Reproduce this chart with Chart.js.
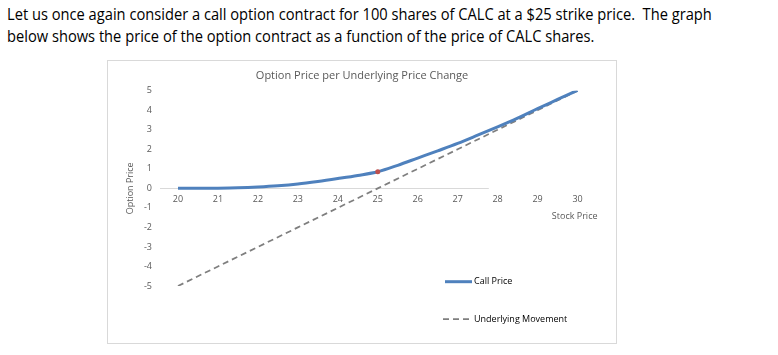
<!DOCTYPE html>
<html><head><meta charset="utf-8">
<script src="https://cdn.jsdelivr.net/npm/chart.js@4/dist/chart.umd.min.js"></script>
<style>
html,body{margin:0;padding:0;background:#fff;width:778px;height:355px;overflow:hidden;}
.t{position:absolute;left:7px;white-space:nowrap;font-family:"Open Sans",sans-serif;font-size:15.5px;line-height:16px;color:#000;transform-origin:0 0;}
#box{position:absolute;left:107px;top:60px;width:508px;height:282px;border:1px solid #d9d9d9;}
#c{position:absolute;left:0;top:0;}
</style></head><body>
<div class="t" id="l1" style="top:6px">Let us once again consider a call option contract for 100 shares of CALC at a $25 strike price.&nbsp; The graph</div>
<div class="t" id="l2" style="top:28px">below shows the price of the option contract as a function of the price of CALC shares.</div>
<div id="box"><canvas id="c" width="508" height="282"></canvas></div>
<script>
// ---- data ----
const stockPrices = [20,20.5,21,21.5,22,22.5,23,23.5,24,24.5,25,25.5,26,26.5,27,27.5,28,28.5,29,29.5,30];
const callPrices  = [0.0,0.0,0.01,0.03,0.07,0.13,0.22,0.35,0.5,0.66,0.85,1.18,1.55,1.92,2.3,2.72,3.15,3.6,4.08,4.55,5.02];
const underlyingPrices = [20,21,22,23,24,25,26,27,28,29,30];
const underlyingMove   = [-5,-4,-3,-2,-1,0,1,2,3,4,5];
const strikeX = [25];
const strikeY = [0.85];
const xTicks = [20,21,22,23,24,25,26,27,28,29,30];
const yTicks = [5,4,3,2,1,0,-1,-2,-3,-4,-5];
const seriesNames = ['Call Price','Underlying Movement'];
const chartTitle = 'Option Price per Underlying Price Change';
const xTitle = 'Stock Price';
const yTitle = 'Option Price';
const axisLineEnd = 27.78;

// fit top text
(function(){
  const l1=document.getElementById('l1'), l2=document.getElementById('l2');
  const s = 705 / l1.scrollWidth;
  l1.style.transform='scaleX('+s+')';
  l2.style.transform='scaleX('+s+')';
})();

const FONT = '"Open Sans", sans-serif';
const blue = '#4f81bd', gray = '#7f7f7f';

const titlePlugin = {
  id:'centerTitle',
  afterDraw(chart){
    const ctx = chart.ctx;
    ctx.save();
    ctx.font = '11px ' + FONT;
    ctx.fillStyle = '#595959';
    ctx.textAlign = 'center';
    ctx.textBaseline = 'middle';
    ctx.fillText(chartTitle, chart.width / 2, 14.6);
    ctx.restore();
  }
};

const zeroLinePlugin = {
  id:'zeroLine',
  beforeDatasetsDraw(chart){
    const x = chart.scales.x, y = chart.scales.y, ctx = chart.ctx;
    const py = Math.round(y.getPixelForValue(0)) + 0.5;
    ctx.save();
    ctx.strokeStyle = '#d9d9d9'; ctx.lineWidth = 1;
    ctx.beginPath();
    ctx.moveTo(x.left + 2, py);
    ctx.lineTo(x.getPixelForValue(axisLineEnd), py);
    ctx.stroke();
    ctx.restore();
  }
};

const legendPlugin = {
  id:'customLegend',
  afterDraw(chart){
    const ctx = chart.ctx;
    const items = chart.data.datasets.filter(d => seriesNames.includes(d.label));
    const pos = [{x0:337, x1:364, y:220.7}, {x0:335, x1:364, y:258}];
    ctx.save();
    ctx.font = '9px ' + FONT;
    ctx.textBaseline = 'middle';
    items.forEach((d, i) => {
      const p = pos[i];
      ctx.strokeStyle = d.borderColor;
      ctx.lineWidth = d.borderWidth;
      ctx.setLineDash(d.borderDash || []);
      ctx.beginPath();
      ctx.moveTo(p.x0, p.y); ctx.lineTo(p.x1, p.y);
      ctx.stroke();
      ctx.setLineDash([]);
      ctx.fillStyle = '#000';
      ctx.fillText(d.label, p.x1 + 2, p.y);
    });
    ctx.restore();
  }
};

new Chart(document.getElementById('c'), {
  type: 'line',
  data: {
    datasets: [
      {
        label: 'strike',
        data: strikeX.map((x,i)=>({x, y: strikeY[i]})),
        showLine: false,
        pointRadius: 2.5,
        pointBackgroundColor: '#c0504d',
        pointBorderColor: '#c0504d',
        borderWidth: 0
      },
      {
        label: seriesNames[0],
        data: stockPrices.map((x,i)=>({x, y: callPrices[i]})),
        borderColor: blue,
        borderWidth: 3,
        pointRadius: 0,
        cubicInterpolationMode: 'monotone',
        fill: false
      },
      {
        label: seriesNames[1],
        data: underlyingPrices.map((x,i)=>({x, y: underlyingMove[i]})),
        borderColor: gray,
        borderWidth: 1.75,
        borderDash: [6,4],
        pointRadius: 0,
        fill: false
      }
    ]
  },
  options: {
    responsive: false,
    animation: false,
    layout: { padding: { left: 0, right: 18.5, top: 29.7, bottom: 57 } },
    plugins: {
      legend: { display: false },
      tooltip: { enabled: false },
      title: { display: false }
    },
    scales: {
      x: {
        type: 'linear',
        position: { y: 0 },
        min: 19.5, max: 30.5,
        afterBuildTicks(scale){ scale.ticks = xTicks.map(v => ({value: v})); },
        grid: { display: false, drawTicks: false },
        border: { display: false },
        ticks: { color: '#595959', font: { family: FONT, size: 9 }, padding: 6, autoSkip: false, maxRotation: 0 },
        title: { display: true, text: xTitle, align: 'end', color: '#595959', font: { family: FONT, size: 9 }, padding: { top: 0, bottom: 0 } }
      },
      y: {
        type: 'linear',
        position: 'left',
        min: -5, max: 5,
        afterBuildTicks(scale){ scale.ticks = yTicks.map(v => ({value: v})); },
        afterFit(scale){ scale.width = 50; },
        grid: { display: false, drawTicks: false },
        border: { display: false },
        ticks: { color: '#595959', font: { family: FONT, size: 9 }, padding: 6 },
        title: { display: true, text: yTitle, color: '#595959', font: { family: FONT, size: 9 }, padding: { top: 16.6, bottom: 0 } }
      }
    }
  },
  plugins: [zeroLinePlugin, titlePlugin, legendPlugin]
});
</script>
</body></html>
